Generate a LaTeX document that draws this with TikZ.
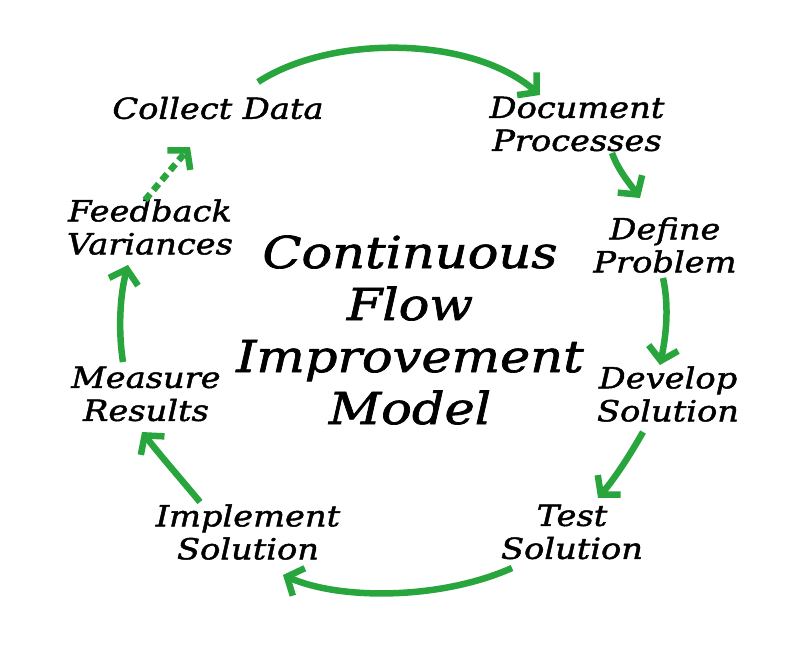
\documentclass[tikz,border=0pt]{standalone}
\usepackage{fontspec}
\setmainfont{DejaVu Serif}
\newfontfamily\hand[FakeStretch=1.16,FakeBold=1.6]{DejaVu Serif Italic}
\usetikzlibrary{arrows.meta,calc}
\definecolor{arrowgreen}{RGB}{40,165,60}
\tikzset{
  lbl/.style={font=\hand\fontsize{29}{33}\selectfont, align=center, inner sep=0pt},
  ttl/.style={font=\hand\fontsize{44}{52}\selectfont, align=center, inner sep=0pt},
  flow/.style={draw=arrowgreen, line width=6.5pt, -{Straight Barb[length=13pt,width=30pt,line width=6.5pt]}},
}
\begin{document}
\begin{tikzpicture}[x=1pt,y=-1pt]
\useasboundingbox[fill=white] (0,0) rectangle (800,666);
\node[lbl] (collect) at (218,108) {Collect Data};
\node[lbl] (docproc) at (577,124) {Document\\Processes};
\node[lbl] (define) at (665,245) {Define\\Problem};
\node[lbl] (develop) at (668,394) {Develop\\Solution};
\node[lbl] (test) at (572,532) {Test\\Solution};
\node[lbl] (implement) at (248,532) {Implement\\Solution};
\node[lbl] (measure) at (146,394) {Measure\\Results};
\node[lbl] (feedback) at (150,227) {Feedback\\Variances};
\node[ttl] (title) at (410,330) {Continuous\\Flow\\Improvement\\Model};

\draw[flow] ($(collect)+(40,-26)$) .. controls (330,35) and (470,35) .. ($(docproc)+(-37,-29)$);
\draw[flow] ($(docproc)+(35,29)$) .. controls (618,170) and (630,184) .. ($(define)+(-25,-47)$);
\draw[flow] ($(define)+(-2,33)$) .. controls (670,310) and (665,340) .. ($(develop)+(-8,-29)$);
\draw[flow] ($(develop)+(-25,38)$) .. controls (630,455) and (615,478) .. ($(test)+(26,-34)$);
\draw[flow] ($(test)+(-60,36)$) .. controls (440,600) and (340,600) .. ($(implement)+(35,43)$);
\draw[flow] ($(implement)+(-48,-30)$) .. controls (180,478) and (160,455) .. ($(measure)+(-4,38)$);
\draw[flow] ($(measure)+(-23,-32)$) .. controls (118,330) and (120,295) .. ($(feedback)+(-22,38)$);
\draw[flow, dash pattern=on 8pt off 5pt] ($(feedback)+(-5,-27)$) -- ($(collect)+(-28,39)$);
\end{tikzpicture}
\end{document}
